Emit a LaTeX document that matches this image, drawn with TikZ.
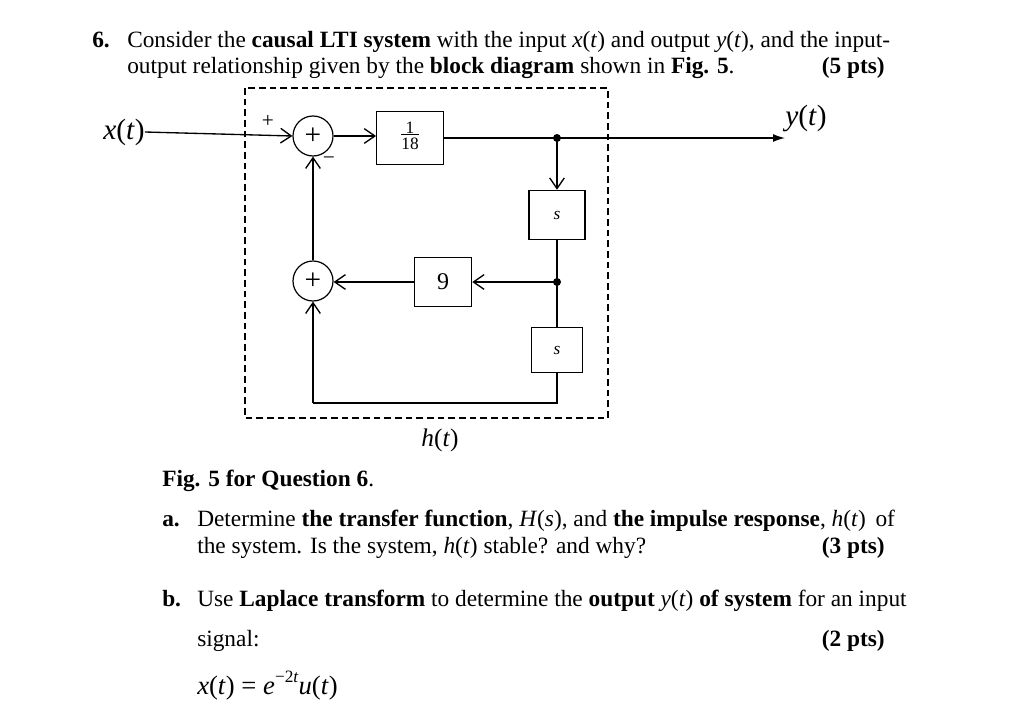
\documentclass[tikz,border=0pt]{standalone}
\usepackage{fontspec}
\setmainfont{Liberation Serif}
\usetikzlibrary{arrows.meta}
\newcommand{\vi}[1]{\textit{#1}}
\begin{document}
\begin{tikzpicture}[x=0.75pt,y=-0.75pt,
  blk/.style={draw,line width=0.9pt,inner sep=0pt},
  sum/.style={draw,circle,line width=0.9pt,minimum size=30pt,inner sep=0pt,font=\fontsize{22}{22}\selectfont},
  ar/.style={line width=1pt,-{Straight Barb[length=8pt,width=11pt,line width=1pt]}},
  ln/.style={line width=1pt},
  txt/.style={anchor=base west,inner sep=0pt,font=\fontsize{17.5}{20}\selectfont},
  txr/.style={anchor=base east,inner sep=0pt,font=\fontsize{17.5}{20}\selectfont}]
\useasboundingbox (0,0) rectangle (1024,717);
% text
\node[txt] (n6) at (92,48) {\textbf{6.}};
\node[txt] (l1) at (127,48) {Consider the \textbf{causal LTI system} with the input \vi{x}(\vi{t}) and output \vi{y}(\vi{t}), and the input-};
\node[txt] (l2) at (127,74) {output relationship given by the \textbf{block diagram} shown in \textbf{Fig. 5}.};
\node[txr] (p5) at (885,74) {\textbf{(5 pts)}};
\node[txt] (fig) at (162,486) {\textbf{Fig. 5 for Question 6}.};
\node[txt] (na) at (162,526) {\textbf{a.}};
\node[txt] (a1) at (197,526) {Determine \textbf{the transfer function}, \vi{H}(\vi{s}), and \textbf{the impulse response}, \vi{h}(\vi{t})\, of};
\node[txt] (a2) at (197,553) {the system. Is the system, \vi{h}(\vi{t}) stable? and why?};
\node[txr] (p3) at (885,553) {\textbf{(3 pts)}};
\node[txt] (nb) at (162,606) {\textbf{b.}};
\node[txt] (b1) at (197,606) {Use \textbf{Laplace transform} to determine the \textbf{output} \vi{y}(\vi{t}) \textbf{of system} for an input};
\node[txt] (b2) at (197,646) {signal:};
\node[txr] (p2) at (885,646) {\textbf{(2 pts)}};
\node[txt,font=\fontsize{20}{22}\selectfont] (fx) at (197,694) {\vi{x}(\vi{t}) = \vi{e}\raisebox{0.45em}{\fontsize{13}{13}\selectfont −2\vi{t}}\vi{u}(\vi{t})};
% diagram
\draw[dashed,dash pattern=on 5pt off 3pt,line width=0.8pt] (245,88) rectangle (608,418);
\node[sum] (s1) at (313,136) {+};
\node[sum] (s2) at (313,281) {+};
\node[blk,minimum width=50pt,minimum height=40pt,font=\fontsize{13}{13}\selectfont] (g) at (410,138) {\begin{tabular}{@{}c@{}}1\\[-3pt]\hline\rule{0pt}{11pt}18\end{tabular}};
\node[blk,minimum width=42pt,minimum height=37pt,font=\fontsize{13}{13}\selectfont] (d1) at (557,215) {\vi{s}};
\node[blk,minimum width=43pt,minimum height=37pt,font=\fontsize{18}{18}\selectfont] (k) at (443,282) {9};
\node[blk,minimum width=38pt,minimum height=34pt,font=\fontsize{13}{13}\selectfont] (d2) at (557,350) {\vi{s}};
\node[inner sep=0pt,font=\fontsize{22}{22}\selectfont] (xt) at (124,132) {\vi{x}(\vi{t})};
\node[inner sep=0pt,font=\fontsize{22}{22}\selectfont] (yt) at (806,118) {\vi{y}(\vi{t})};
\node[inner sep=0pt,font=\fontsize{19}{20}\selectfont] (ht) at (440,440) {\vi{h}(\vi{t})};
\node[inner sep=0pt,font=\fontsize{16}{16}\selectfont] (pl) at (268,121) {+};
\node[inner sep=0pt,font=\fontsize{16}{16}\selectfont] (mi) at (329,161) {−};
\coordinate (j1) at (557,138);
\coordinate (j2) at (557,282);
\coordinate (yo) at (785,138);
\coordinate (br) at (313,403);
\draw[ar] (xt.east) -- (s1.west);
\draw[ar] (s1.east) -- (s1.east -| g.west);
\draw[ln] (g.east) -- (j1);
\draw[line width=1pt,-{Latex[length=9pt,width=6pt]}] (j1) -- (yo);
\draw[ar] (j1) -- (d1.north);
\draw[ln] (d1.south) -- (j2) -- (d2.north);
\draw[ar] (j2) -- (k.east);
\draw[ar] (k.west) -- (k.west -| s2.east);
\draw[ar] (s2.north) -- (s1.south);
\draw[ln] (d2.south) |- (br);
\draw[ar] (br) -- (s2.south);
\fill (j1) circle (3pt);
\fill (j2) circle (3pt);
\end{tikzpicture}
\end{document}
